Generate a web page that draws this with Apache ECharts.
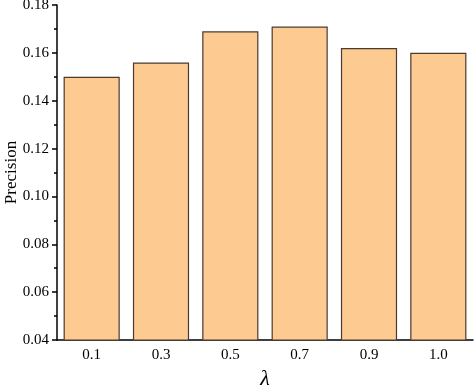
<!DOCTYPE html>
<html><head><meta charset="utf-8">
<script src="https://cdn.jsdelivr.net/npm/echarts@6/dist/echarts.min.js"></script>
<style>html,body{margin:0;padding:0;background:#fff}#c{width:474px;height:388px}</style>
</head><body><div id="c"></div>
<script>
const categories = ['0.1','0.3','0.5','0.7','0.9','1.0'];
const precision = [0.150, 0.156, 0.169, 0.171, 0.162, 0.160];
const yTicks = [0.04, 0.06, 0.08, 0.10, 0.12, 0.14, 0.16, 0.18];

const font = '"Liberation Serif", "Times New Roman", serif';
const chart = echarts.init(document.getElementById('c'), null, {renderer:'canvas'});
chart.setOption({
  animation: false,
  grid: {left: 57, right: 1, top: 5, bottom: 48, containLabel: false, outerBoundsMode: 'none'},
  xAxis: {
    type: 'category',
    data: categories,
    name: 'λ',
    nameLocation: 'middle',
    nameGap: 28,
    nameMoveOverlap: false,
    nameTextStyle: {fontFamily: font, fontStyle: 'italic', fontSize: 22, color: '#000'},
    axisLine: {lineStyle: {color: '#000', width: 1.5}},
    axisTick: {show: false},
    axisLabel: {fontFamily: font, fontSize: 15, color: '#000', margin: 8}
  },
  yAxis: {
    type: 'value',
    min: yTicks[0],
    max: yTicks[yTicks.length - 1],
    interval: 0.02,
    name: 'Precision',
    nameLocation: 'middle',
    nameGap: 37,
    nameMoveOverlap: false,
    nameTextStyle: {fontFamily: font, fontSize: 17, color: '#000'},
    axisLine: {show: true, lineStyle: {color: '#000', width: 1.5}},
    axisTick: {show: true, inside: false, length: 5, lineStyle: {color: '#000', width: 1.5}},
    minorTick: {show: true, splitNumber: 2, length: 3, lineStyle: {color: '#000', width: 1.5}},
    splitLine: {show: false},
    axisLabel: {fontFamily: font, fontSize: 15, color: '#000', margin: 8,
      formatter: v => v.toFixed(2)}
  },
  series: [{
    type: 'bar',
    data: precision,
    barCategoryGap: '19%',
    itemStyle: {color: '#FDCB92', borderColor: '#4a3b2e', borderWidth: 1.2}
  }]
});
</script></body></html>
